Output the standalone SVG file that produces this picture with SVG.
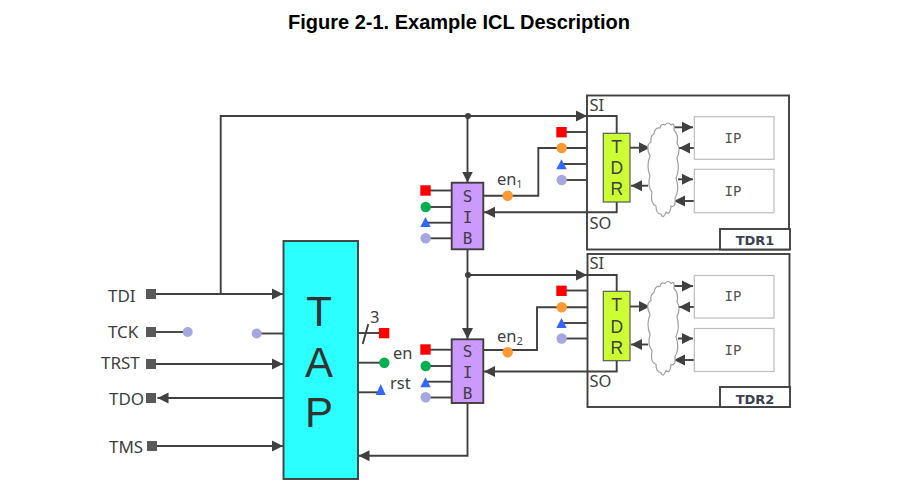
<svg xmlns="http://www.w3.org/2000/svg" width="899" height="482" viewBox="0 0 899 482">
<style>
text{font-family:"Noto Sans","DejaVu Sans",sans-serif;fill:#404040}
.title{font-family:"Liberation Sans",Arial,sans-serif;font-weight:bold;font-size:20px;fill:#000;text-anchor:middle}
.lbl{font-size:16.5px}
.pin{font-size:17px}
.sib{font-family:"DejaVu Sans Mono",monospace;font-size:16px;text-anchor:middle}
.tdr{font-family:"Liberation Sans",Arial,sans-serif;font-size:17.5px;text-anchor:middle}
.ip{font-family:"DejaVu Sans Mono",monospace;font-size:14px;text-anchor:middle;fill:#555}
.name{font-family:"DejaVu Sans",sans-serif;font-weight:bold;font-size:13px;text-anchor:middle;fill:#3a4250}
.tap{font-family:"Liberation Sans",Arial,sans-serif;font-size:42px;text-anchor:middle;fill:#333}
.c path,.c line,.c polyline{fill:none;stroke:#404040;stroke-width:1.9}
.arr{marker-end:url(#ah)}
.port{fill:#595959}.red{fill:#ff0000}.grn{fill:#00b050}.blu{fill:#3366ff}.lil{fill:#a6a6e0}.org{fill:#ff9933}
.box{fill:#fff;stroke:#404040;stroke-width:1.9}
.sb{fill:#cc99ff;stroke:#404040;stroke-width:1.9}
.ipb{fill:#fff;stroke:#bdbdbd;stroke-width:1.2}
</style>
<defs>
<marker id="ah" markerUnits="userSpaceOnUse" markerWidth="12" markerHeight="12" refX="11" refY="6" orient="auto"><path d="M0,0.5L11,6L0,11.5z" fill="#404040"/></marker>
</defs>
<text class="title" x="459" y="29">Figure 2-1. Example ICL Description</text>

<g id="TDR1">
<rect class="box" x="587" y="95.5" width="202" height="154"/>
<rect class="box" x="720" y="229" width="70" height="20.5"/>
<text class="name" x="755" y="244.5">TDR1</text>
<text class="lbl" x="589.5" y="111">SI</text>
<text class="lbl" x="589.5" y="229">SO</text>
</g>
<g id="TDR2">
<rect class="box" x="587.5" y="254" width="202" height="153"/>
<rect class="box" x="720" y="387" width="70" height="20"/>
<text class="name" x="755" y="403.5">TDR2</text>
<text class="lbl" x="589.5" y="269">SI</text>
<text class="lbl" x="589.5" y="387">SO</text>
</g>

<g class="c" id="connectors">
<polyline class="arr" points="156,294 283,294"/>
<polyline points="220.7,294 220.7,116 467.5,116"/>
<polyline class="arr" points="467.5,116 587,116"/>
<polyline points="587,116 616.7,116 616.7,133"/>
<polyline class="arr" points="467.5,116 467.5,182.5"/>
<polyline class="arr" points="467.5,249 467.5,339"/>
<polyline class="arr" points="467.5,275 587,275"/>
<polyline points="587,275 616.7,275 616.7,291"/>
<polyline class="arr" points="467.5,403 467.5,455.7 358.5,455.7"/>
<line x1="156" y1="332" x2="188" y2="332"/>
<line x1="257" y1="333.5" x2="283" y2="333.5"/>
<line class="arr" x1="156" y1="364" x2="283" y2="364"/>
<line class="arr" x1="283" y1="398" x2="157.5" y2="398"/>
<line class="arr" x1="157" y1="446" x2="283" y2="446"/>
<line x1="358" y1="333" x2="384" y2="333"/>
<line x1="362.7" y1="344" x2="368.3" y2="324"/>
<line x1="358" y1="362.7" x2="384" y2="362.7"/>
<line x1="358" y1="392.3" x2="380" y2="392.3"/>
<line x1="425" y1="190.5" x2="452" y2="190.5"/>
<line x1="425" y1="207" x2="452" y2="207"/>
<line x1="425" y1="222.7" x2="452" y2="222.7"/>
<line x1="425" y1="238.3" x2="452" y2="238.3"/>
<line x1="425" y1="349.7" x2="452" y2="349.7"/>
<line x1="425" y1="366" x2="452" y2="366"/>
<line x1="425" y1="381.7" x2="452" y2="381.7"/>
<line x1="425" y1="397.5" x2="452" y2="397.5"/>
<polyline points="483,195.7 538.3,195.7 538.3,148 587,148"/>
<polyline points="483,350 537,350 537,307.3 587,307.3"/>
<line x1="561" y1="132" x2="587" y2="132"/>
<line x1="561" y1="164" x2="587" y2="164"/>
<line x1="561" y1="180" x2="587" y2="180"/>
<line x1="561" y1="290.5" x2="587" y2="290.5"/>
<line x1="561" y1="323" x2="587" y2="323"/>
<line x1="561" y1="338.5" x2="587" y2="338.5"/>
<polyline class="arr" points="616.7,202 616.7,212.3 484,212.3"/>
<polyline class="arr" points="616.7,360 616.7,371.5 484,371.5"/>
<line class="arr" x1="630" y1="147.7" x2="650" y2="147.7"/>
<line class="arr" x1="648" y1="185.7" x2="631" y2="185.7"/>
<line class="arr" x1="673" y1="127.3" x2="693" y2="127.3"/>
<line class="arr" x1="694" y1="148" x2="679" y2="148"/>
<line class="arr" x1="678" y1="179.3" x2="693" y2="179.3"/>
<line class="arr" x1="694" y1="201" x2="674" y2="201"/>
<line class="arr" x1="630" y1="306.5" x2="650" y2="306.5"/>
<line class="arr" x1="648" y1="344.5" x2="631" y2="344.5"/>
<line class="arr" x1="673" y1="286" x2="693" y2="286"/>
<line class="arr" x1="694" y1="307" x2="679" y2="307"/>
<line class="arr" x1="678" y1="338.5" x2="693" y2="338.5"/>
<line class="arr" x1="694" y1="360" x2="674" y2="360"/>
</g>

<g id="TDI"><rect class="port" x="146" y="289" width="10" height="10"/><text class="pin" x="108" y="302">TDI</text></g>
<g id="TCK"><rect class="port" x="146" y="327" width="10" height="10"/><text class="pin" x="108" y="338">TCK</text><circle class="lil" cx="187.7" cy="332" r="5"/><circle class="lil" cx="256.7" cy="333.5" r="5"/></g>
<g id="TRST"><rect class="port" x="146" y="359" width="10" height="10"/><text class="pin" x="101" y="369">TRST</text></g>
<g id="TDO"><rect class="port" x="146" y="393" width="10" height="10"/><text class="pin" x="109" y="405">TDO</text></g>
<g id="TMS"><rect class="port" x="147" y="441" width="10" height="10"/><text class="pin" x="109" y="453">TMS</text></g>

<g id="TAP">
<rect x="283.5" y="241" width="74.5" height="238" fill="#2bffff" stroke="#404040" stroke-width="1.9"/>
<text class="tap" x="319" y="326">T</text>
<text class="tap" x="319" y="377">A</text>
<text class="tap" x="319" y="427">P</text>
<rect class="red" x="379" y="328" width="10.3" height="10.3"/>
<circle class="grn" cx="384.3" cy="362.7" r="5.2"/>
<path class="blu" d="M380.7,384L385.7,395H375.7z"/>
<text class="lbl" x="370" y="323">3</text>
<text class="lbl" x="393" y="359">en</text>
<text class="lbl" x="390" y="389">rst</text>
</g>

<g id="SIB1">
<rect class="sb" x="451.7" y="182.7" width="31.6" height="66.6"/>
<text class="sib" x="467.5" y="202">S</text><text class="sib" x="467.5" y="223">I</text><text class="sib" x="467.5" y="244">B</text>
<rect class="red" x="420.3" y="185.3" width="10.4" height="10.4"/>
<circle class="grn" cx="425.7" cy="207" r="5.2"/>
<path class="blu" d="M425.5,217L430.7,227H420.3z"/>
<circle class="lil" cx="425.7" cy="238.3" r="5.2"/>
<circle class="org" cx="507.7" cy="195.7" r="5.2"/>
<text class="lbl" x="497" y="185">en<tspan font-size="10" dy="3">1</tspan></text>
</g>
<g id="SIB2">
<rect class="sb" x="451.7" y="339.3" width="31.6" height="63.7"/>
<text class="sib" x="467.5" y="357">S</text><text class="sib" x="467.5" y="378">I</text><text class="sib" x="467.5" y="399">B</text>
<rect class="red" x="420.3" y="344.3" width="10.4" height="10.4"/>
<circle class="grn" cx="425.7" cy="366" r="5.2"/>
<path class="blu" d="M425.5,377.3L430.7,387.3H420.3z"/>
<circle class="lil" cx="425.7" cy="397.3" r="5.2"/>
<circle class="org" cx="507.7" cy="352.3" r="5.2"/>
<text class="lbl" x="497" y="342">en<tspan font-size="11" dy="3">2</tspan></text>
</g>

<g id="TDR1-ports">
<rect class="red" x="556.3" y="127" width="10.4" height="10.4"/>
<circle class="org" cx="561.7" cy="148" r="5.2"/>
<path class="blu" d="M561.5,159.3L566.7,169.3H556.3z"/>
<circle class="lil" cx="561.7" cy="180" r="5.2"/>
</g>
<g id="TDR2-ports">
<rect class="red" x="556.3" y="285.6" width="10.4" height="10.4"/>
<circle class="org" cx="561.7" cy="307.3" r="5.2"/>
<path class="blu" d="M561.5,318L566.7,328H556.3z"/>
<circle class="lil" cx="561.7" cy="338.5" r="5.2"/>
</g>

<g id="TDR1-reg">
<rect x="603.3" y="133.3" width="26.7" height="68.7" fill="#ccff33" stroke="#595959" stroke-width="1.2"/>
<text class="tdr" x="616.7" y="153">T</text><text class="tdr" x="616.7" y="174">D</text><text class="tdr" x="616.7" y="195">R</text>
</g>
<g id="TDR2-reg">
<rect x="603.3" y="291.3" width="26.7" height="69.4" fill="#ccff33" stroke="#595959" stroke-width="1.2"/>
<text class="tdr" x="616.7" y="311">T</text><text class="tdr" x="616.7" y="332.5">D</text><text class="tdr" x="616.7" y="354">R</text>
</g>

<path id="cloud1" d="M654,134Q655,127 660,128Q661,123 665,125Q668,121 671,125Q675,122 674,130Q679,135 677,143Q681,150 677,158Q680,170 676,178Q680,190 675,198Q676,208 671,206Q670,216 666,212Q663,220 661,214Q656,214 656,206Q650,204 652,192Q647,186 650,176Q646,166 650,156Q645,145 651,142Q650,136 654,134Z" fill="#fff" stroke="#a0a0a0" stroke-width="1.2"/>
<path id="cloud2" transform="translate(0,158.5)" d="M654,134Q655,127 660,128Q661,123 665,125Q668,121 671,125Q675,122 674,130Q679,135 677,143Q681,150 677,158Q680,170 676,178Q680,190 675,198Q676,208 671,206Q670,216 666,212Q663,220 661,214Q656,214 656,206Q650,204 652,192Q647,186 650,176Q646,166 650,156Q645,145 651,142Q650,136 654,134Z" fill="#fff" stroke="#a0a0a0" stroke-width="1.2"/>

<g id="IP1"><rect class="ipb" x="694.3" y="116.7" width="79.7" height="42.6"/><text class="ip" x="733" y="143">IP</text></g>
<g id="IP2"><rect class="ipb" x="694.3" y="169.3" width="79.7" height="43.4"/><text class="ip" x="733" y="196">IP</text></g>
<g id="IP3"><rect class="ipb" x="694.3" y="275.5" width="79.7" height="42.5"/><text class="ip" x="733" y="301">IP</text></g>
<g id="IP4"><rect class="ipb" x="694.3" y="328.5" width="79.7" height="43"/><text class="ip" x="733" y="355">IP</text></g>

<circle cx="468" cy="116" r="3" fill="#404040"/>
<circle cx="468" cy="275" r="3" fill="#404040"/>
</svg>
